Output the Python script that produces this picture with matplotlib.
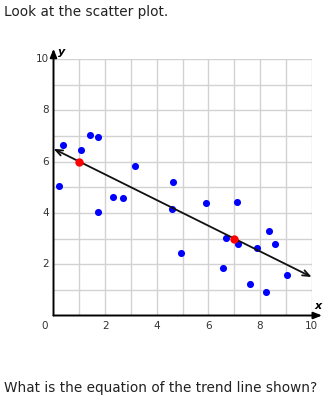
import matplotlib
matplotlib.use('Agg')
import matplotlib.pyplot as plt

# scatter points
xs = [0.36, 0.23, 1.07, 1.41, 1.71, 1.74, 2.29, 2.68, 3.16, 4.64, 4.58, 4.94,
      5.90, 7.10, 6.69, 7.16, 7.90, 8.35, 8.57, 6.56, 7.62, 8.24, 9.04]
ys = [6.66, 5.04, 6.44, 7.02, 6.97, 4.03, 4.62, 4.60, 5.82, 5.21, 4.16, 2.44,
      4.37, 4.43, 3.04, 2.77, 2.65, 3.31, 2.79, 1.84, 1.21, 0.91, 1.56]
# two red points the trend line goes through
red_x = [1, 7]
red_y = [6, 3]
ticks = [2, 4, 6, 8, 10]

fig = plt.figure(figsize=(3.3, 4.0), dpi=100)
fig.text(4/330, 1 - 12/400, 'Look at the scatter plot.', fontsize=9.8,
         color='#222222', va='center', ha='left')
fig.text(4/330, 1 - 388/400, 'What is the equation of the trend line shown?',
         fontsize=9.8, color='#222222', va='center', ha='left')

ax = fig.add_axes([53.5/330, 84.5/400, 258.2/330, 256.5/400])
ax.set_xlim(0, 10)
ax.set_ylim(0, 10)
for s in ax.spines.values():
    s.set_visible(False)
ax.set_xticks([])
ax.set_yticks([])

for i in range(1, 11):
    ax.plot([i, i], [0, 10], color='#d2d2d2', lw=1, zorder=1)
    ax.plot([0, 10], [i, i], color='#d2d2d2', lw=1, zorder=1)

# axes with arrows
ax.annotate('', xy=(0, 10.4), xytext=(0, 0), annotation_clip=False,
            arrowprops=dict(arrowstyle='-|>,head_length=0.5,head_width=0.2',
                            color='black', lw=1.4, shrinkA=0, shrinkB=0))
ax.annotate('', xy=(10.4, 0), xytext=(0, 0), annotation_clip=False,
            arrowprops=dict(arrowstyle='-|>,head_length=0.5,head_width=0.2',
                            color='black', lw=1.4, shrinkA=0, shrinkB=0))
ax.text(0.32, 10.26, 'y', fontsize=8, fontweight='bold', style='italic',
        ha='center', va='center')
ax.text(10.26, 0.37, 'x', fontsize=8, fontweight='bold', style='italic',
        ha='center', va='center')

for t in ticks:
    ax.text(t, -0.42, str(t), fontsize=7.5, ha='center', va='center', color='#333333')
    ax.text(-0.18, t, str(t), fontsize=7.5, ha='right', va='center', color='#333333')
ax.text(-0.33, -0.42, '0', fontsize=7.5, ha='center', va='center', color='#333333')

ax.scatter(xs, ys, s=26, color='#0000ff', zorder=3, linewidths=0)

# trend line y = -0.5x + 6.5
ax.annotate('', xy=(10, -0.5*10 + 6.5), xytext=(0, 6.5), annotation_clip=False,
            arrowprops=dict(arrowstyle='<->,head_length=0.5,head_width=0.2',
                            color='#111111', lw=1.3, shrinkA=0, shrinkB=0), zorder=4)
ax.scatter(red_x, red_y, s=36, color='#ff0000', zorder=5, linewidths=0)

fig.savefig('out.png', dpi=100)
